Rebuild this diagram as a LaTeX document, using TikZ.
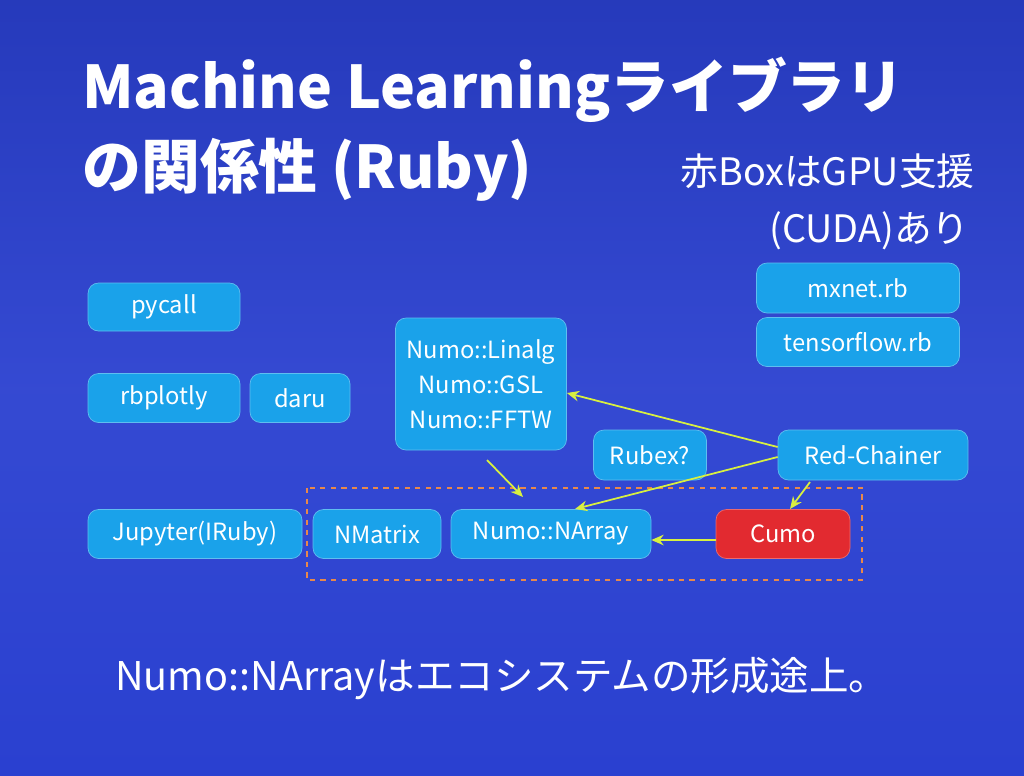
\documentclass[tikz,border=0pt]{standalone}
\usepackage{fontspec}
\setmainfont{Noto Sans CJK JP}
\usetikzlibrary{arrows.meta}
\definecolor{bg}{HTML}{2A40D0}
\definecolor{bx}{HTML}{1AA2EA}
\definecolor{rd}{HTML}{E22A30}
\definecolor{ar}{HTML}{D8F040}
\definecolor{dsh}{HTML}{E8884A}
\tikzset{
 bb/.style={fill=bx,draw=bx!70!white,rounded corners=6pt,text=white,font=\fontsize{13.5}{16}\selectfont,inner sep=0pt},
 ya/.style={draw=ar,line width=1pt,-{Stealth[length=7pt,width=6pt]}}
}
\begin{document}
\begin{tikzpicture}[x=0.02cm,y=-0.02cm]
\shade[top color=bg!90!black,bottom color=bg,middle color=bg!95!white] (0,0) rectangle (1024,775);
\useasboundingbox (0,0) rectangle (1024,775);
\node[anchor=base west,text=white,font=\fontsize{33.5}{38}\selectfont\bfseries,inner sep=0] (t1) at (82,108) {Machine Learningライブラリ};
\node[anchor=base west,text=white,font=\fontsize{33.5}{38}\selectfont\bfseries,inner sep=0] (t2) at (82,188) {の関係性 (Ruby)};
\node[anchor=base east,text=white,font=\fontsize{21.5}{25}\selectfont,inner sep=0] (r1) at (975,185) {赤BoxはGPU支援};
\node[anchor=base east,text=white,font=\fontsize{21.5}{25}\selectfont,inner sep=0] (r2) at (970,242) {(CUDA)あり};
\node[anchor=base west,text=white,font=\fontsize{22.5}{26}\selectfont,inner sep=0] (bt) at (115,690) {Numo::NArrayはエコシステムの形成途上。};
\draw[dsh,dashed,line width=0.6pt] (307,488) rectangle (862,580);
\node[bb,minimum width=152*0.02cm,minimum height=48*0.02cm] (py) at (164,307) {pycall};
\node[bb,minimum width=152*0.02cm,minimum height=49*0.02cm] (rb) at (164,398) {rbplotly};
\node[bb,minimum width=100*0.02cm,minimum height=49*0.02cm] (da) at (300,398) {daru};
\node[bb,minimum width=214*0.02cm,minimum height=49*0.02cm] (ju) at (195,534) {Jupyter(IRuby)};
\node[bb,minimum width=128*0.02cm,minimum height=49*0.02cm] (nm) at (377,534) {NMatrix};
\node[bb,minimum width=200*0.02cm,minimum height=49*0.02cm] (na) at (551,534) {Numo::NArray};
\node[bb,fill=rd,draw=rd!70!white,minimum width=134*0.02cm,minimum height=49*0.02cm] (cu) at (783,534) {Cumo};
\node[bb,minimum width=171*0.02cm,minimum height=132*0.02cm,align=center,font=\fontsize{13.5}{20}\selectfont] (li) at (481,384) {Numo::Linalg\\Numo::GSL\\Numo::FFTW};
\node[bb,minimum width=113*0.02cm,minimum height=50*0.02cm] (ru) at (650,455) {Rubex?};
\node[bb,minimum width=190*0.02cm,minimum height=50*0.02cm] (rc) at (873,455) {Red-Chainer};
\node[bb,minimum width=203*0.02cm,minimum height=50*0.02cm] (mx) at (858,288) {mxnet.rb};
\node[bb,minimum width=203*0.02cm,minimum height=49*0.02cm] (tf) at (858,342) {tensorflow.rb};
\coordinate (l1) at (487,460);
\draw[ya] (rc.west|-0,447) -- (li.east|-0,393);
\draw[ya] (rc.west|-0,457) -- (575,509);
\draw[ya] (810,482) -- (790,509);
\draw[ya] (cu.west|-0,540) -- (na.east|-0,540);
\draw[ya] (l1) -- (523,497);
\end{tikzpicture}
\end{document}
